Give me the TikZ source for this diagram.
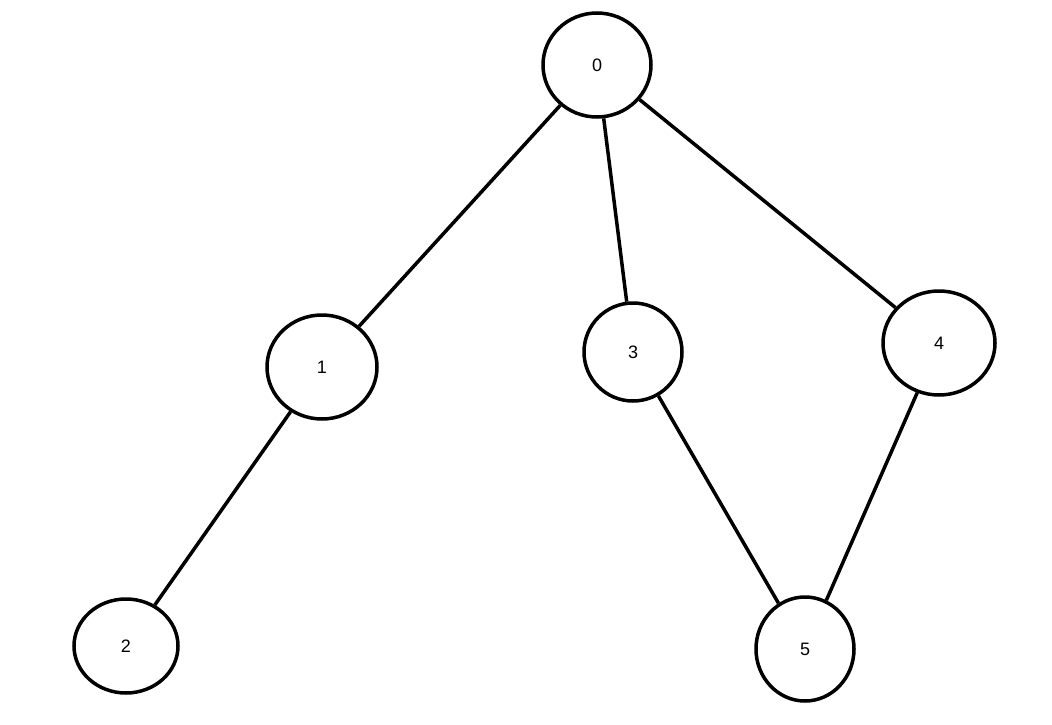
\documentclass[tikz,border=0pt]{standalone}
\usepackage{fontspec}
\setmainfont{Liberation Sans}
\usetikzlibrary{shapes.geometric}
\begin{document}
\begin{tikzpicture}[x=1pt,y=-1pt,
  vert/.style={draw,ellipse,line width=3.5pt,inner sep=0pt,font=\fontsize{18}{21}\selectfont},
  edge/.style={line width=3.5pt}]
\useasboundingbox (0,0) rectangle (1052,725);
\node[vert,minimum width=108,minimum height=104] (n0) at (597,65) {0};
\node[vert,minimum width=110,minimum height=104] (n1) at (322,367) {1};
\node[vert,minimum width=104,minimum height=94] (n2) at (126,646) {2};
\node[vert,minimum width=98,minimum height=98] (n3) at (633,352) {3};
\node[vert,minimum width=112,minimum height=104] (n4) at (939,343) {4};
\node[vert,minimum width=98,minimum height=104] (n5) at (805,649) {5};
\draw[edge] (n0) -- (n1);
\draw[edge] (n0) -- (n3);
\draw[edge] (n0) -- (n4);
\draw[edge] (n1) -- (n2);
\draw[edge] (n3) -- (n5);
\draw[edge] (n4) -- (n5);
\end{tikzpicture}
\end{document}
